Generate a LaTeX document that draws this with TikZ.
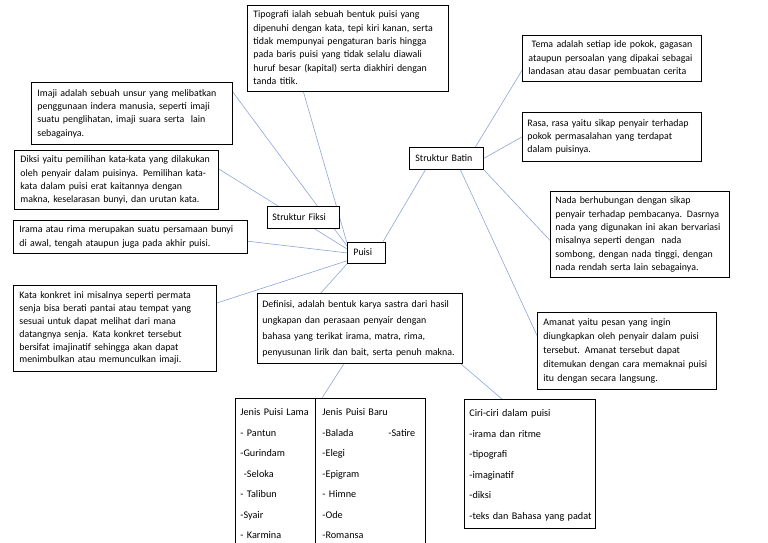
\documentclass[tikz,border=0pt]{standalone}
\usepackage{fontspec}
\setmainfont{Carlito}
\usetikzlibrary{backgrounds}
\definecolor{garisbiru}{RGB}{140,165,215}
\newcommand{\isi}[1]{\begin{tabular}{@{}l@{}}#1\end{tabular}}

\tikzset{
  kotak/.style={draw=black, line width=0.8pt, fill=white, align=left, anchor=north west,
    inner xsep=6pt, inner ysep=3pt, font=\fontsize{9.9}{13.3}\selectfont},
  tabel/.style={kotak, inner xsep=5pt, font=\fontsize{10.2}{20.5}\selectfont},
  garis/.style={draw=garisbiru, line width=0.6pt},
}

\begin{document}
\begin{tikzpicture}[x=1pt, y=-1pt]
    \useasboundingbox (0,0) rectangle (768,543);

    % 1. PUSAT PETA KONSEP
    \node[kotak, text width=26pt, minimum height=21pt] (puisi) at (347,242) {\isi{Puisi}};
    \node[kotak, inner xsep=5pt, text width=62pt, minimum height=22pt] (fiksi) at (267,206) {\isi{Struktur Fiksi}};
    \node[kotak, text width=62pt, minimum height=22pt] (batin) at (409,147) {\isi{Struktur Batin}};

    % 2. UNSUR STRUKTUR FISIK (kiri dan atas)
    \node[kotak, text width=189pt, minimum height=86pt] (tipografi) at (247,5) {\isi{%
        Tipografi ialah sebuah bentuk puisi yang\\
        dipenuhi dengan kata, tepi kiri kanan, serta\\
        tidak mempunyai pengaturan baris hingga\\
        pada baris puisi yang tidak selalu diawali\\
        huruf besar (kapital) serta diakhiri dengan\\
        tanda titik.}};
    \node[kotak, text width=189pt, minimum height=62pt] (imaji) at (31,82) {\isi{%
        Imaji adalah sebuah unsur yang melibatkan\\
        penggunaan indera manusia, seperti imaji\\
        suatu penglihatan, imaji suara serta \ lain\\
        sebagainya.}};
    \node[kotak, text width=192pt, minimum height=53pt] (diksi) at (14,150) {\isi{%
        Diksi yaitu pemilihan kata-kata yang dilakukan\\
        oleh penyair dalam puisinya. Pemilihan kata-\\
        kata dalam puisi erat kaitannya dengan\\
        makna, keselarasan bunyi, dan urutan kata.}};
    \node[kotak, text width=222pt, minimum height=29pt] (irama) at (13,220) {\isi{%
        Irama atau rima merupakan suatu persamaan bunyi\\
        di awal, tengah ataupun juga pada akhir puisi.}};
    \node[kotak, font=\fontsize{9.9}{12.8}\selectfont, text width=191pt, minimum height=86pt] (konkret) at (13,285) {\isi{%
        Kata konkret ini misalnya seperti permata\\
        senja bisa berati pantai atau tempat yang\\
        sesuai untuk dapat melihat dari mana\\
        datangnya senja. Kata konkret tersebut\\
        bersifat imajinatif sehingga akan dapat\\
        menimbulkan atau memunculkan imaji.}};

    % 3. UNSUR STRUKTUR BATIN (kanan)
    \node[kotak, text width=167pt, minimum height=46pt] (tema) at (522,35) {\isi{%
        \ Tema adalah setiap ide pokok, gagasan\\
        ataupun persoalan yang dipakai sebagai\\
        landasan atau dasar pembuatan cerita}};
    \node[kotak, inner xsep=5pt, text width=169pt, minimum height=49pt] (rasa) at (522,112) {\isi{%
        Rasa, rasa yaitu sikap penyair terhadap\\
        pokok permasalahan yang terdapat\\
        dalam puisinya.}};
    \node[kotak, inner xsep=5pt, text width=169pt, minimum height=86pt] (nada) at (550,191) {\isi{%
        Nada berhubungan dengan sikap\\
        penyair terhadap pembacanya. Dasrnya\\
        nada yang digunakan ini akan bervariasi\\
        misalnya seperti dengan \ nada\\
        sombong, dengan nada tinggi, dengan\\
        nada rendah serta lain sebagainya.}};
    \node[kotak, font=\fontsize{9.9}{14}\selectfont, text width=167pt, minimum height=77pt] (amanat) at (537,312) {\isi{%
        Amanat yaitu pesan yang ingin\\
        diungkapkan oleh penyair dalam puisi\\
        tersebut. Amanat tersebut dapat\\
        ditemukan dengan cara memaknai puisi\\
        itu dengan secara langsung.}};

    % 4. DEFINISI, JENIS DAN CIRI-CIRI (bawah)
    \node[kotak, inner xsep=5pt, font=\fontsize{9.9}{16}\selectfont, text width=195pt, minimum height=70pt] (def) at (257,293) {\isi{%
        Definisi, adalah bentuk karya sastra dari hasil\\
        ungkapan dan perasaan penyair dengan\\
        bahasa yang terikat irama, matra, rima,\\
        penyusunan lirik dan bait, serta penuh makna.}};
    \node[tabel, text width=70pt, minimum height=142pt] (lama) at (235,398) {\isi{%
        Jenis Puisi Lama\\ - Pantun\\ -Gurindam\\ \ -Seloka\\ - Talibun\\ -Syair\\ - Karmina}};
    \node[tabel, inner xsep=7pt, text width=96pt, minimum height=142pt] (baru) at (315,398) {\isi{%
        Jenis Puisi Baru\\ \makebox[66pt][l]{-Balada}-Satire\\ -Elegi\\ -Epigram\\ - Himne\\ -Ode\\ -Romansa}};
    \node[tabel, text width=121pt, minimum height=128pt] (ciri) at (464,399) {\isi{%
        Ciri-ciri dalam puisi\\ -irama dan ritme\\ -tipografi\\ -imaginatif\\ -diksi\\ -teks dan Bahasa yang padat}};

    % 5. GARIS PENGHUBUNG
    \begin{scope}[on background layer]
        \draw[garis] ([xshift=-44.5pt]tipografi.south) -- ([yshift=-1pt]puisi.north west);
        \draw[garis] ([yshift=-10pt]imaji.north east) -- ([yshift=-4pt]puisi.north west);
        \draw[garis] ([yshift=-19pt]diksi.north east) -- ([yshift=-7pt]puisi.north west);
        \draw[garis] ([yshift=-4.5pt]irama.east) -- (puisi.west);
        \draw[garis] ([yshift=-18pt]konkret.north east) -- ([yshift=3pt]puisi.south west);
        \draw[garis] (puisi.south west) -- ([xshift=-39pt]def.north);
        \draw[garis] ([xshift=-3pt]puisi.north east) -- ([xshift=-21pt]batin.south);
        \draw[garis] ([xshift=29pt]batin.north) -- ([yshift=-12pt]tema.west);
        \draw[garis] (batin.east) -- (rasa.west);
        \draw[garis] (batin.south east) -- ([yshift=-6pt]nada.west);
        \draw[garis] ([xshift=14pt]batin.south) -- ([yshift=15.5pt]amanat.west);
        \draw[garis] ([xshift=-16pt]def.south) -- ([xshift=7pt]baru.north west);
        \draw[garis] ([xshift=-2pt]def.south east) -- ([xshift=-28pt]ciri.north);
    \end{scope}

\end{tikzpicture}
\end{document}
